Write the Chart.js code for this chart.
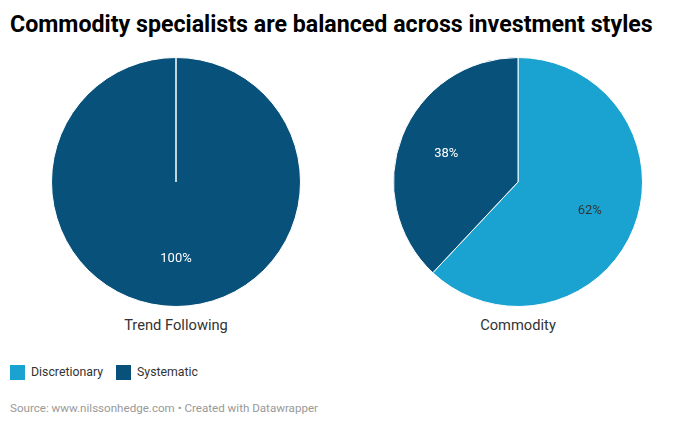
<!DOCTYPE html>
<html><head><meta charset="utf-8">
<script src="https://cdn.jsdelivr.net/npm/chart.js@4"></script>
<style>
html,body{margin:0;padding:0;background:#fff}
body{width:696px;height:425px;position:relative;overflow:hidden;font-family:Roboto,"Noto Sans",sans-serif}
#title{position:absolute;left:10px;top:9px;font-weight:700;font-size:23.2px;line-height:30px;color:#000;white-space:nowrap}
.pie{position:absolute;top:57px;width:340px;height:250px}
.cat{position:absolute;top:316px;width:340px;text-align:center;font-size:14.7px;line-height:18px;color:#333}
#legend{position:absolute;left:10px;top:364px;font-size:12.3px;line-height:16px;color:#333;display:flex;align-items:center}
.sw{display:inline-block;width:15px;height:15px;margin-right:6px}
.item{display:flex;align-items:center;margin-right:13px}
#source{position:absolute;left:10px;top:400px;font-size:11.6px;line-height:16px;color:#999;white-space:nowrap}
</style></head>
<body>
<div id="title">Commodity specialists are balanced across investment styles</div>
<div class="pie" style="left:6px"><canvas id="c0"></canvas></div>
<div class="pie" style="left:348px"><canvas id="c1"></canvas></div>
<div class="cat" id="cat0" style="left:6px"></div>
<div class="cat" id="cat1" style="left:348px"></div>
<div id="legend"></div>
<div id="source">Source: www.nilssonhedge.com • Created with Datawrapper</div>
<script>
const categories = ["Trend Following", "Commodity"];
const seriesNames = ["Discretionary", "Systematic"];
const discretionary = [0, 62];
const systematic = [100, 38];

const seriesColors = ["#1aa3d1", "#08517a"];
const labelColors = ["#333333", "#ffffff"];

const legendEl = document.getElementById('legend');
seriesNames.forEach((n, i) => {
  const it = document.createElement('div'); it.className = 'item';
  const sw = document.createElement('span'); sw.className = 'sw'; sw.style.background = seriesColors[i];
  const tx = document.createElement('span'); tx.textContent = n;
  it.appendChild(sw); it.appendChild(tx); legendEl.appendChild(it);
});

const pctLabels = {
  id: 'pctLabels',
  afterDatasetsDraw(chart) {
    const ctx = chart.ctx;
    const meta = chart.getDatasetMeta(0);
    const data = chart.data.datasets[0].data;
    ctx.save();
    ctx.font = '13px Roboto, sans-serif';
    ctx.textAlign = 'center';
    ctx.textBaseline = 'middle';
    meta.data.forEach((arc, i) => {
      const v = data[i];
      if (!v) return;
      const p = arc.getProps(['x', 'y', 'startAngle', 'endAngle', 'outerRadius'], true);
      const mid = (p.startAngle + p.endAngle) / 2;
      const r = p.outerRadius * 0.62;
      ctx.fillStyle = labelColors[i];
      ctx.fillText(v + '%', p.x + Math.cos(mid) * r, p.y + Math.sin(mid) * r);
    });
    ctx.restore();
  }
};

categories.forEach((cat, k) => {
  document.getElementById('cat' + k).textContent = cat;
  new Chart(document.getElementById('c' + k), {
    type: 'pie',
    data: {
      labels: seriesNames,
      datasets: [{
        data: [discretionary[k], systematic[k]],
        backgroundColor: seriesColors,
        borderColor: '#ffffff',
        borderWidth: 1
      }]
    },
    options: {
      responsive: true,
      maintainAspectRatio: false,
      animation: false,
      layout: { padding: 0 },
      plugins: { legend: { display: false }, tooltip: { enabled: false } }
    },
    plugins: [pctLabels]
  });
});
</script>
</body></html>
